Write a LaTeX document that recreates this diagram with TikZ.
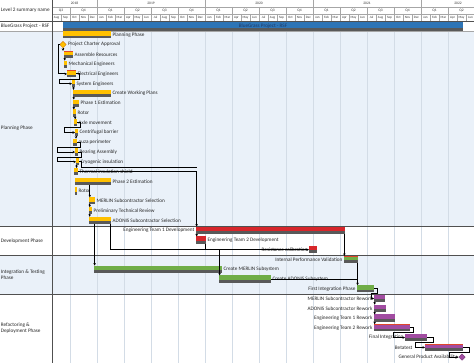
\documentclass[tikz,border=0pt]{standalone}
\usepackage{fontspec}
\setmainfont{Carlito}
\usetikzlibrary{fit,shapes.geometric,arrows.meta,calc}

\definecolor{bandblue}{HTML}{EAF1F9}
\definecolor{gridc}{HTML}{D3DCE6}
\definecolor{hdrline}{HTML}{A6A6A6}
\definecolor{sepline}{HTML}{505050}
\definecolor{cyel}{HTML}{FFC000}
\definecolor{cshadow}{HTML}{595959}
\definecolor{cred}{HTML}{D7262B}
\definecolor{cgreen}{HTML}{70AD47}
\definecolor{cpurple}{HTML}{A14CA1}
\definecolor{cblue}{HTML}{2E75B6}
\definecolor{cnavy}{HTML}{1F3864}
\definecolor{cstripe}{HTML}{E0452B}

\tikzset{
  lbl/.style={font=\fontsize{5.2}{6.4}\selectfont, inner sep=0.4pt, text=black!85},
  hdr/.style={font=\fontsize{3.6}{4}\selectfont, inner sep=0pt, text=black!80},
  mon/.style={font=\fontsize{3.3}{4}\selectfont, inner sep=0pt, text=black!80},
  bar/.style={inner sep=0pt, outer sep=0pt,
    path picture={\fill[cshadow] (path picture bounding box.south west) rectangle ([yshift=2.8pt]path picture bounding box.south east);}},
  sbar/.style={inner sep=0pt, outer sep=0pt,
    path picture={\fill[cshadow] (path picture bounding box.south west) rectangle ([yshift=2.8pt]path picture bounding box.south east);
      \fill[cstripe] (path picture bounding box.north west) rectangle ([yshift=-1.2pt]path picture bounding box.north east);}},
  conn/.style={draw=black, line width=0.85pt, -{Stealth[length=2.5pt,width=2.5pt]}},
  plainc/.style={draw=black, line width=0.85pt},
  mile/.style={diamond, aspect=1, minimum width=6.5pt, minimum height=6.5pt, inner sep=0pt},
}
\newcommand\taskbar[6][bar]{\node[#1, fill=#6, fit={(#3,#5-3.6)(#4,#5+3.6)}] (#2) {};}
\newcommand\labR[3]{\node[lbl, anchor=west] (#1) at ([xshift=1pt]#2.east) {#3};}
\newcommand\labL[3]{\node[lbl, anchor=east] (#1) at ([xshift=-1pt]#2.west) {#3};}

\begin{document}
\begin{tikzpicture}[x=1pt,y=-1pt]
\useasboundingbox (0,0) rectangle (474,363);
\fill[white] (0,0) rectangle (474,363);
% bands
\fill[bandblue] (0,31) rectangle (474,226.3);
\fill[bandblue] (0,255.6) rectangle (474,294.7);
% grid
\foreach \x in {70,97,124,...,448} \draw[gridc, line width=0.4pt] (\x,21) -- (\x,363);
% header lines
\draw[hdrline, line width=0.4pt] (52,7) -- (474,7) (52,14) -- (474,14);
\foreach \x in {97,205,313,421} \draw[hdrline, line width=0.4pt] (\x,0) -- (\x,21);
\foreach \x in {70,124,151,178,232,259,286,340,367,394,448} \draw[hdrline, line width=0.4pt] (\x,7) -- (\x,21);
\foreach \k in {1,...,46} \draw[hdrline, line width=0.3pt] ({52+9*\k},14) -- ({52+9*\k},21);
\draw[sepline, line width=0.5pt] (0,21) -- (474,21);
\draw[hdrline, line width=0.4pt] (0,31) -- (474,31);
\draw[sepline, line width=0.6pt] (0,226.3) -- (474,226.3) (0,255.6) -- (474,255.6) (0,294.7) -- (474,294.7);
\draw[sepline, line width=0.6pt] (52,0) -- (52,363);

% years
\node[hdr] (y18) at (74.5,3.6) {2018};
\node[hdr] (y19) at (151,3.6) {2019};
\node[hdr] (y20) at (259,3.6) {2020};
\node[hdr] (y21) at (367,3.6) {2021};
\node[hdr] (y22) at (458,3.6) {2022};
% quarters
\node[hdr] (qa) at (61,10.6) {Q3};
\node[hdr] (qb) at (83.5,10.6) {Q4};
\foreach \q [count=\j from 0] in {Q1,Q2,Q3,Q4,Q1,Q2,Q3,Q4,Q1,Q2,Q3,Q4,Q1,Q2}
  \node[hdr] (qq\j) at ({110.5+27*\j},10.6) {\q};
% months
\foreach \m [count=\k from 0] in {Aug,Sep,Oct,Nov,Dec,Jan,Feb,Mar,Apr,May,Jun,Jul,Aug,Sep,Oct,Nov,Dec,Jan,Feb,Mar,Apr,May,Jun,Jul,Aug,Sep,Oct,Nov,Dec,Jan,Feb,Mar,Apr,May,Jun,Jul,Aug,Sep,Oct,Nov,Dec,Jan,Feb,Mar,Apr,May,Jun}
  \node[mon] (mo\k) at ({56.5+9*\k},17.6) {\m};

% left column
\node[lbl, anchor=west] (hname) at (0.3,10.6) {Level 2 summary name};
\node[lbl, anchor=west] (sname) at (0.3,26) {BlueGrass Project - RSF};
\node[lbl, anchor=west] (ph1) at (0.3,128.6) {Planning Phase};
\node[lbl, anchor=west] (ph2) at (0.3,241) {Development Phase};
\node[lbl, anchor=west, align=left] (ph3) at (0.3,275) {Integration \& Testing\\Phase};
\node[lbl, anchor=west, align=left] (ph4) at (0.3,328) {Refactoring \&\\Deployment Phase};

% project summary bar
\node[bar, fill=cblue, fit={(63,22.3)(463,30.6)}] (proj) {};
\node[lbl, text=cnavy] (projlbl) at ([yshift=0.6pt]proj.center) {BlueGrass Project - RSF};

% planning phase
\taskbar{plan}{63}{111}{34.9}{cyel}
\node[mile, fill=cyel, draw=orange!80!black, line width=0.3pt] (charter) at (63,44.6) {};
\taskbar[sbar]{asm}{64}{73}{54.4}{cyel}
\taskbar{mech}{64}{67}{64.2}{cyel}
\taskbar[sbar]{elec}{67}{76}{73.9}{cyel}
\taskbar{sys}{72}{75}{83.7}{cyel}
\taskbar{cwp}{73}{111}{93.5}{cyel}
\taskbar{p1e}{73}{79}{103.2}{cyel}
\taskbar{rotor}{73}{76}{113.0}{cyel}
\taskbar{axle}{74}{77}{122.8}{cyel}
\taskbar{cent}{75}{78}{132.5}{cyel}
\taskbar{perim}{73}{77}{142.3}{cyel}
\taskbar{bear}{75}{78}{152.1}{cyel}
\taskbar{cryo}{76}{79}{161.8}{cyel}
\taskbar{thermal}{74}{78}{171.6}{cyel}
\taskbar{p2e}{75}{111}{181.4}{cyel}
\taskbar{rotorb}{75}{77}{191.1}{cyel}
\taskbar{msel}{89}{95}{200.9}{cyel}
\taskbar{prel}{89}{92}{210.7}{cyel}
\taskbar{asel}{89}{111}{220.4}{cyel}
% development
\taskbar{et1}{196}{345}{230.2}{cred}
\taskbar{et2}{196}{206}{240.0}{cred}
\taskbar{res}{309}{317}{249.7}{cred}
% integration
\taskbar[sbar]{ipv}{344}{358}{259.5}{cgreen}
\taskbar{cmer}{94}{222}{269.2}{cgreen}
\taskbar{cado}{219}{271}{279.0}{cgreen}
\taskbar{fi}{357}{374}{288.8}{cgreen}
% refactoring
\taskbar{mrw}{374}{385}{298.5}{cpurple}
\taskbar{arw}{374}{386}{308.3}{cpurple}
\taskbar{e1r}{374}{395}{318.1}{cpurple}
\taskbar[sbar]{e2r}{374}{410}{327.8}{cpurple}
\taskbar{fint}{405}{427}{337.6}{cpurple}
\taskbar[sbar]{beta}{425}{463}{347.4}{cpurple}
\node[mile, fill=cpurple, draw=cpurple!70!black, line width=0.3pt] (gpa) at (462,357.1) {};

% labels
\labR{tplan}{plan}{Planning Phase}
\labR{tcharter}{charter}{Project Charter Approval}
\labR{tasm}{asm}{Assemble Resources}
\labR{tmech}{mech}{Mechanical Engineers}
\labR{telec}{elec}{Electrical Engineers}
\labR{tsys}{sys}{System Engineers}
\labR{tcwp}{cwp}{Create Working Plans}
\labR{tp1e}{p1e}{Phase 1 Estimation}
\labR{trotor}{rotor}{Rotor}
\labR{taxle}{axle}{Axle movement}
\labR{tcent}{cent}{Centrifugal barrier}
\labR{tperim}{perim}{ouza perimeter}
\labR{tbear}{bear}{Bearing Assembly}
\labR{tcryo}{cryo}{Cryogenic insulation}
\labR{ttherm}{thermal}{Thermal insulation shield}
\labR{tp2e}{p2e}{Phase 2 Estimation}
\labR{trotorb}{rotorb}{Rotor}
\labR{tmsel}{msel}{MERLIN Subcontractor Selection}
\labR{tprel}{prel}{Preliminary Technical Review}
\labR{tasel}{asel}{ADONIS Subcontractor Selection}
\labL{tet1}{et1}{Engineering Team 1 Development}
\labR{tet2}{et2}{Engineering Team 2 Development}
\labL{tres}{res}{Resistance calibration}
\labL{tipv}{ipv}{Internal Performance Validation}
\labR{tcmer}{cmer}{Create MERLIN Subsystem}
\labR{tcado}{cado}{Create ADONIS Subsystem}
\labL{tfi}{fi}{First Integration Phase}
\labL{tmrw}{mrw}{MERLIN Subcontractor Rework}
\labL{tarw}{arw}{ADONIS Subcontractor Rework}
\labL{te1r}{e1r}{Engineering Team 1 Rework}
\labL{te2r}{e2r}{Engineering Team 2 Rework}
\labL{tfint}{fint}{Final Integration}
\node[lbl, anchor=east] (tbeta) at ([xshift=-12pt]beta.west) {Betatest};
\labL{tgpa}{gpa}{General Product Availability}

% connectors
\draw[conn] (charter.south) -- (charter.south |- asm.north);
\draw[conn] ($(asm.south west)+(0.7,0)$) -- ($(mech.north west)+(0.7,0)$);
\draw[conn] (charter.west) -- ++(-1.5,0) |- (elec.west);
\draw[conn] (elec.east) -- ++(3,0) -- ++(0,5.5) -| ($(sys.west)+(-13,0)$) -- (sys.west);
\draw[conn] (sys.south) -- (sys.south |- cwp.north);
\draw[conn] ($(cwp.south west)+(0.8,0)$) -- ($(p1e.north west)+(0.8,0)$);
\draw[conn] ($(p1e.south west)+(0.8,0)$) -- ($(rotor.north west)+(0.8,0)$);
\draw[conn] ($(rotor.south east)+(-0.8,0)$) -- ($(rotor.south east |- axle.north)+(-0.8,0)$);
\draw[conn] (axle.east) -- ++(3,0) -- ++(0,5) -| ($(cent.west)+(-11,0)$) -- (cent.west);
\draw[conn] ($(cent.south west)+(1,0)$) -- ($(cent.south west |- perim.north)+(1,0)$);
\draw[conn] (perim.east) -- ++(3,0) -- ++(0,5) -| ($(bear.west)+(-18,0)$) -- (bear.west);
\draw[conn] (bear.east) -- ++(3,0) -- ++(0,5) -| ($(cryo.west)+(-19,0)$) -- (cryo.west);
\draw[conn] ($(cryo.south west)+(0.6,0)$) -- ($(cryo.south west |- thermal.north)+(0.6,0)$);
\draw[plainc] (cryo.east) -- ++(2,0) |- ($(et1.north west |- cryo.south)+(0.6,1.7)$);
\draw[conn] (thermal.east) -| ($(et1.north west)+(0.6,0)$);
\draw[conn] ($(msel.north west |- p2e.south)+(0.8,0)$) -- ($(msel.north west)+(0.8,0)$);
\draw[conn] ($(msel.south west)+(0.7,0)$) -- ($(prel.north west)+(0.7,0)$);
\draw[conn] ($(prel.south west)+(0.7,0)$) -- ($(asel.north west)+(0.7,0)$);
\draw[conn] ($(cmer.north west |- asel.south)+(0.6,0)$) -- ($(cmer.north west)+(0.6,0)$);
\draw[conn] ($(asel.south east)+(-0.6,0)$) |- ($(cado.north west |- res.center)+(0.6,0)$) -- ($(cado.north west)+(0.6,0)$);
\draw[conn] ($(et1.south west)+(0.7,0)$) -- ($(et2.north west)+(0.7,0)$);
\draw[conn] ($(et2.south east)+(-0.6,0)$) |- (res.west);
\draw[conn] ($(et1.south east)+(-0.6,0)$) -- ($(et1.south east |- ipv.north)+(-0.6,0)$);
\draw[plainc] ($(fi.north west |- ipv.south)+(0.6,0)$) -- ($(fi.north west |- cado.east)+(0.6,0)$);
\draw[conn] (cado.east) -| ($(fi.north west)+(0.6,0)$);
\draw[conn] (fi.east) -- ++(3,0) -- ++(0,4.9) -| ($(mrw.west)+(-3,0)$) -- (mrw.west);
\draw[conn] ($(mrw.south west)+(0.7,0)$) -- ($(arw.north west)+(0.7,0)$);
\draw[conn] ($(arw.south west)+(0.7,0)$) -- ($(e1r.north west)+(0.7,0)$);
\draw[conn] ($(e1r.south west)+(0.7,0)$) -- ($(e2r.north west)+(0.7,0)$);
\draw[conn] (e2r.east) -- ++(3,0) -- ++(0,5) -| ($(fint.west)+(-12,0)$) -- (fint.west);
\draw[conn] (fint.east) -- ++(6,0) -- ++(0,5.2) -| ($(beta.west)+(-10,0)$) -- (beta.west);
\draw[conn] (beta.east) -- ++(6,0) -- ++(0,5.1) -| ($(gpa.west)+(-9,0)$) -- (gpa.west);
\end{tikzpicture}
\end{document}
